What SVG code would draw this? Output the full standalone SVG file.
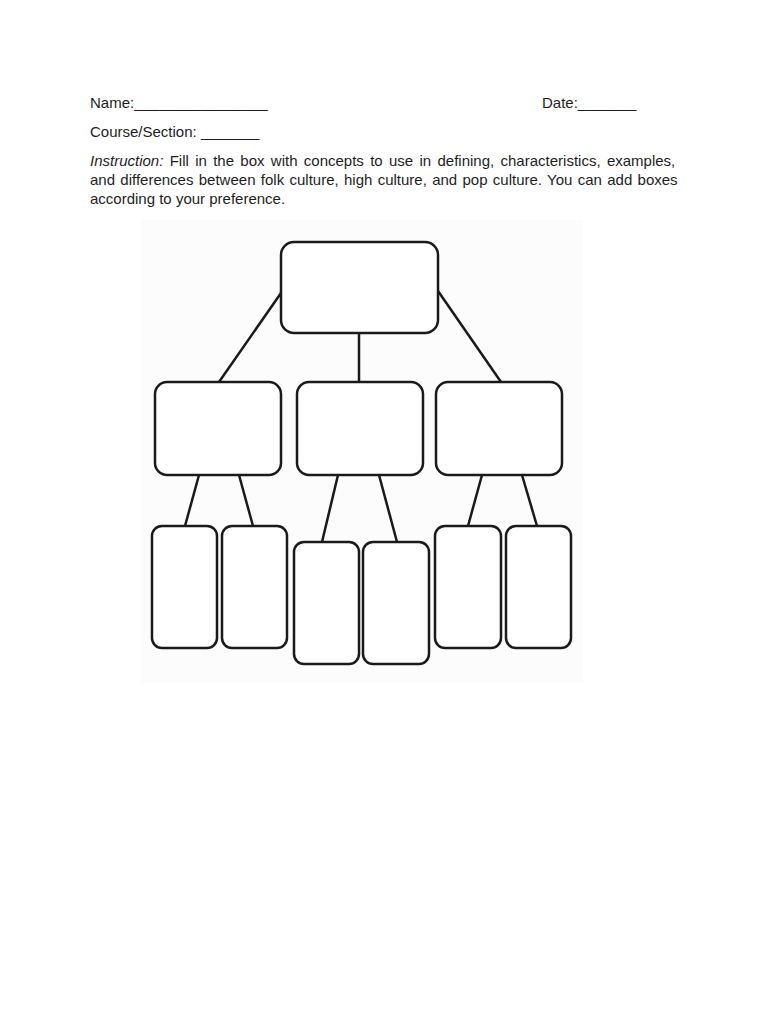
<svg xmlns="http://www.w3.org/2000/svg" width="768" height="1024" viewBox="0 0 768 1024">
  <style>
    .t { font-family: "Liberation Sans", Arial, sans-serif; font-size: 15px; fill: #1e1e1e; }
    .box { fill: #ffffff; stroke: #1a1a1a; stroke-width: 2.5; }
    .con line { stroke: #1a1a1a; stroke-width: 2.5; stroke-linecap: round; }
  </style>
  <rect width="768" height="1024" fill="#ffffff"/>
  <g id="header">
    <text class="t" x="90" y="108">Name:________________</text>
    <text class="t" x="542" y="108">Date:_______</text>
    <text class="t" x="90" y="137">Course/Section: _______</text>
    <text class="t" x="90" y="166" style="word-spacing:2.15px"><tspan font-style="italic">Instruction:</tspan> Fill in the box with concepts to use in defining, characteristics, examples,</text>
    <text class="t" x="90" y="185" style="word-spacing:1.15px">and differences between folk culture, high culture, and pop culture. You can add boxes</text>
    <text class="t" x="90" y="204">according to your preference.</text>
  </g>
  <rect id="chart-bg" x="141" y="220" width="442" height="463" fill="#fcfcfc"/>
  <g id="connectors" class="con">
    <line x1="281" y1="293" x2="219" y2="382"/>
    <line x1="359" y1="333" x2="359" y2="382"/>
    <line x1="438" y1="291" x2="501" y2="382"/>
    <line x1="199" y1="475" x2="185" y2="526"/>
    <line x1="239" y1="475" x2="253" y2="526"/>
    <line x1="338" y1="475" x2="322" y2="542"/>
    <line x1="379" y1="475" x2="397" y2="542"/>
    <line x1="482" y1="475" x2="468" y2="526"/>
    <line x1="522" y1="475" x2="537" y2="526"/>
  </g>
  <g id="top"><rect class="box" x="281" y="242" width="157" height="91" rx="13"/></g>
  <g id="mid-left"><rect class="box" x="155" y="382" width="126" height="93" rx="12"/></g>
  <g id="mid-center"><rect class="box" x="297" y="382" width="126" height="93" rx="12"/></g>
  <g id="mid-right"><rect class="box" x="436" y="382" width="126" height="93" rx="12"/></g>
  <g id="leaf-1"><rect class="box" x="152" y="526" width="65" height="122" rx="10"/></g>
  <g id="leaf-2"><rect class="box" x="222" y="526" width="65" height="122" rx="10"/></g>
  <g id="leaf-3"><rect class="box" x="294" y="542" width="65" height="122" rx="10"/></g>
  <g id="leaf-4"><rect class="box" x="363" y="542" width="66" height="122" rx="10"/></g>
  <g id="leaf-5"><rect class="box" x="435" y="526" width="66" height="122" rx="10"/></g>
  <g id="leaf-6"><rect class="box" x="506" y="526" width="65" height="122" rx="10"/></g>
</svg>
